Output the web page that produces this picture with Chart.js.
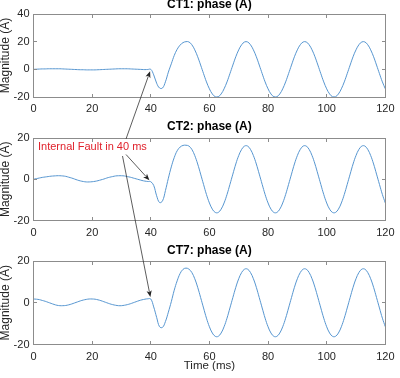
<!DOCTYPE html>
<html>
<head>
<meta charset="utf-8">
<script src="https://cdn.jsdelivr.net/npm/chart.js@4.4.1/dist/chart.umd.min.js"></script>
<style>
html,body{margin:0;padding:0;background:#fff;overflow:hidden}
#wrap{position:relative;width:400px;height:378px;background:#fff}
#wrap canvas{position:absolute;left:0;top:0}
</style>
</head>
<body>
<div id="wrap">
<canvas id="c1" width="400" height="378"></canvas>
<canvas id="c2" width="400" height="378"></canvas>
<canvas id="c3" width="400" height="378"></canvas>
</div>
<script>
// ---- data ----
const timeMs = [0,1,2,3,4,5,6,7,8,9,10,11,12,13,14,15,16,17,18,19,20,21,22,23,24,25,26,27,28,29,30,31,32,33,34,35,36,37,38,39,40,41,42,43,44,45,46,47,48,49,50,51,52,53,54,55,56,57,58,59,60,61,62,63,64,65,66,67,68,69,70,71,72,73,74,75,76,77,78,79,80,81,82,83,84,85,86,87,88,89,90,91,92,93,94,95,96,97,98,99,100,101,102,103,104,105,106,107,108,109,110,111,112,113,114,115,116,117,118,119,120];

const ct1 = [0,0.1,0.2,0.3,0.3,0.4,0.4,0.4,0.4,0.4,0.3,0.2,0.1,0,-0.1,-0.2,-0.3,-0.3,-0.4,-0.4,-0.4,-0.4,-0.3,-0.2,-0.1,0,0.1,0.2,0.3,0.4,0.4,0.4,0.4,0.3,0.2,0.1,0,-0.1,-0.2,-0.1,0,
 -4,-10,-13.5,-13.5,-9,-2,4,10,14.5,17.5,19.3,20,
 19.8,17.8,14.1,9.1,3.1,-3.1,-9.1,-14.1,-17.8,-19.8,-19.8,-17.8,-14.1,-9.1,-3.1,3.1,9.1,14.1,17.8,19.8,
 19.8,17.8,14.1,9.1,3.1,-3.1,-9.1,-14.1,-17.8,-19.8,-19.8,-17.8,-14.1,-9.1,-3.1,3.1,9.1,14.1,17.8,19.8,
 19.8,17.8,14.1,9.1,3.1,-3.1,-9.1,-14.1,-17.8,-19.8,-19.8,-17.8,-14.1,-9.1,-3.1,3.1,9.1,14.1,17.8,19.8,
 19.8,17.8,14.1,9.1,3.1,-3.1,-9.1,-14.1];

const ct2 = [0,0.3,0.6,0.9,1.1,1.3,1.5,1.6,1.7,1.7,1.6,1.4,1.0,0.6,0.1,-0.4,-0.8,-1.1,-1.3,-1.3,-1.2,-1.0,-0.7,-0.3,0.1,0.6,1.0,1.3,1.6,1.7,1.7,1.6,1.3,1.0,0.6,0.2,-0.2,-0.6,-0.9,-1.1,-1.2,
 -3,-8,-11.3,-10.5,-5.5,0.5,6,10.5,13.8,15.6,16.4,16.5,
 16.1,14.5,11.5,7.4,2.5,-2.5,-7.4,-11.5,-14.5,-16.1,-16.1,-14.5,-11.5,-7.4,-2.5,2.5,7.4,11.5,14.5,16.1,
 16.1,14.5,11.5,7.4,2.5,-2.5,-7.4,-11.5,-14.5,-16.1,-16.1,-14.5,-11.5,-7.4,-2.5,2.5,7.4,11.5,14.5,16.1,
 16.1,14.5,11.5,7.4,2.5,-2.5,-7.4,-11.5,-14.5,-16.1,-16.1,-14.5,-11.5,-7.4,-2.5,2.5,7.4,11.5,14.5,16.1,
 16.1,14.5,11.5,7.4,2.5,-2.5,-7.4,-11.5];

const ct7 = [1.8,1.7,1.5,1.1,0.7,0.2,-0.3,-0.8,-1.2,-1.4,-1.4,-1.3,-1.0,-0.6,-0.1,0.4,0.9,1.3,1.6,1.8,1.8,1.7,1.4,1.0,0.5,0.0,-0.5,-0.9,-1.2,-1.4,-1.4,-1.2,-0.9,-0.5,0.0,0.5,1.0,1.4,1.7,1.9,1.8,
 -2,-7,-11.5,-11.8,-9,-4.5,0.5,6,10.5,14,16,16.6,
 16.1,14.5,11.5,7.4,2.5,-2.5,-7.4,-11.5,-14.5,-16.1,-16.1,-14.5,-11.5,-7.4,-2.5,2.5,7.4,11.5,14.5,16.1,
 16.1,14.5,11.5,7.4,2.5,-2.5,-7.4,-11.5,-14.5,-16.1,-16.1,-14.5,-11.5,-7.4,-2.5,2.5,7.4,11.5,14.5,16.1,
 16.1,14.5,11.5,7.4,2.5,-2.5,-7.4,-11.5,-14.5,-16.1,-16.1,-14.5,-11.5,-7.4,-2.5,2.5,7.4,11.5,14.5,16.1,
 16.1,14.5,11.5,7.4,2.5,-2.5,-7.4,-11.5];

const titles = ['CT1: phase (A)', 'CT2: phase (A)', 'CT7: phase (A)'];
const xTicks = [0, 20, 40, 60, 80, 100, 120];
const yRange1 = [-20, 40];
const yRange23 = [-20, 20];
const faultTime = 40;
const annotationText = 'Internal Fault in 40 ms';
const xAxisTitle = 'Time (ms)';
const yAxisTitle = 'Magnitude (A)';

// ---- styling ----
Chart.defaults.font.family = "'Liberation Sans', Arial, Helvetica, sans-serif";
Chart.defaults.color = '#262626';
const LINE = '#5796d0';
const BOX = '#8c8c8c';

const boxPlugin = {
  id: 'matlabBox',
  afterDraw(chart) {
    const {ctx, chartArea: a, scales: {x, y}} = chart;
    const h = v => Math.floor(v) + 0.5;
    ctx.save();
    ctx.strokeStyle = BOX; ctx.lineWidth = 1;
    const l = h(a.left), r = h(a.right), t = h(a.top), b = h(a.bottom);
    ctx.strokeRect(l, t, r - l, b - t);
    const L = 3.5;
    ctx.beginPath();
    x.ticks.forEach(tk => {
      const px = h(x.getPixelForValue(tk.value));
      ctx.moveTo(px, b); ctx.lineTo(px, b - L);
      ctx.moveTo(px, t); ctx.lineTo(px, t + L);
    });
    y.ticks.forEach(tk => {
      const py = h(y.getPixelForValue(tk.value));
      ctx.moveTo(l, py); ctx.lineTo(l + L, py);
      ctx.moveTo(r, py); ctx.lineTo(r - L, py);
    });
    ctx.stroke();
    ctx.restore();
  }
};

const charts = [];

function arrow(ctx, x0, y0, x1, y1) {
  const ang = Math.atan2(y1 - y0, x1 - x0);
  const len = 6.5, hw = 2.6;
  const c = Math.cos(ang), s = Math.sin(ang);
  ctx.beginPath();
  ctx.moveTo(x0, y0);
  ctx.lineTo(x1 - c * len * 0.8, y1 - s * len * 0.8);
  ctx.stroke();
  ctx.beginPath();
  ctx.moveTo(x1, y1);
  ctx.lineTo(x1 - c * len - s * hw, y1 - s * len + c * hw);
  ctx.lineTo(x1 - c * len * 0.75, y1 - s * len * 0.75);
  ctx.lineTo(x1 - c * len + s * hw, y1 - s * len - c * hw);
  ctx.closePath();
  ctx.fill();
}

const annotationPlugin = {
  id: 'faultAnnotation',
  afterDraw(chart) {
    const ctx = chart.ctx;
    ctx.save();
    ctx.font = "11px 'Liberation Sans', Arial, sans-serif";
    ctx.fillStyle = '#e0222c';
    ctx.textAlign = 'left';
    ctx.textBaseline = 'middle';
    ctx.fillText(annotationText, 38, 147);
    ctx.strokeStyle = '#333';
    ctx.fillStyle = '#222';
    ctx.lineWidth = 0.8;
    const idx = timeMs.indexOf(faultTime);
    const series = [ct1, ct2, ct7];
    const all = [charts[0], charts[1], chart];
    const starts = [[126, 139], [126, 154.5], [122.5, 156]];
    all.forEach((c, i) => {
      if (!c) return;
      const px = c.scales.x.getPixelForValue(faultTime);
      const py = c.scales.y.getPixelForValue(series[i][idx]);
      const [sx, sy] = starts[i];
      const d = Math.hypot(px - sx, py - sy);
      const k = (d - 2) / d;
      arrow(ctx, sx, sy, sx + (px - sx) * k, sy + (py - sy) * k);
    });
    ctx.restore();
  }
};

function makeChart(id, values, yr, title, padTop, titleGap, areaBottom, isLast) {
  const xAxisH = isLast ? 378 - areaBottom : 18;
  const padBottom = isLast ? 0 : 378 - areaBottom - xAxisH;
  const plugins = [boxPlugin];
  if (isLast) plugins.push(annotationPlugin);
  const c = new Chart(document.getElementById(id), {
    type: 'line',
    data: {
      datasets: [{
        data: timeMs.map((t, i) => ({x: t, y: values[i]})),
        borderColor: LINE,
        borderWidth: 1,
        pointRadius: 0,
        tension: 0.4,
        fill: false
      }]
    },
    options: {
      responsive: false,
      animation: false,
      events: [],
      layout: {padding: {top: padTop, left: 0, right: 9.5, bottom: padBottom}},
      plugins: {
        legend: {display: false},
        tooltip: {enabled: false},
        title: {
          display: true,
          text: title,
          fullSize: false,
          color: '#000',
          font: {size: 12, weight: 'bold', lineHeight: 0.8},
          padding: {top: 0, bottom: titleGap}
        }
      },
      scales: {
        x: {
          type: 'linear',
          min: 0, max: 120,
          afterBuildTicks: s => { s.ticks = xTicks.map(v => ({value: v})); },
          afterFit: s => { s.height = xAxisH; },
          grid: {display: false, drawTicks: false},
          border: {display: false},
          ticks: {padding: 5.5, maxRotation: 0, font: {size: 11}, color: '#262626'},
          title: {display: !!isLast, text: xAxisTitle, font: {size: 11.5, lineHeight: 1.2}, color: '#262626', padding: {top: 0, bottom: 5}}
        },
        y: {
          min: yr[0], max: yr[1],
          ticks: {stepSize: 20, padding: 4, font: {size: 11}, color: '#262626'},
          afterFit: s => { s.width = 33.5; },
          grid: {display: false, drawTicks: false},
          border: {display: false},
          title: {display: true, text: yAxisTitle, font: {size: 12, lineHeight: 1}, color: '#262626', padding: {top: 0, bottom: 0}}
        }
      }
    },
    plugins
  });
  charts.push(c);
  return c;
}

makeChart('c1', ct1, yRange1, titles[0], 0, 4.4, 97, false);
makeChart('c2', ct2, yRange23, titles[1], 121.7, 6.7, 220.5, false);
makeChart('c3', ct7, yRange23, titles[2], 246.2, 5.2, 344.5, true);
</script>
</body>
</html>
